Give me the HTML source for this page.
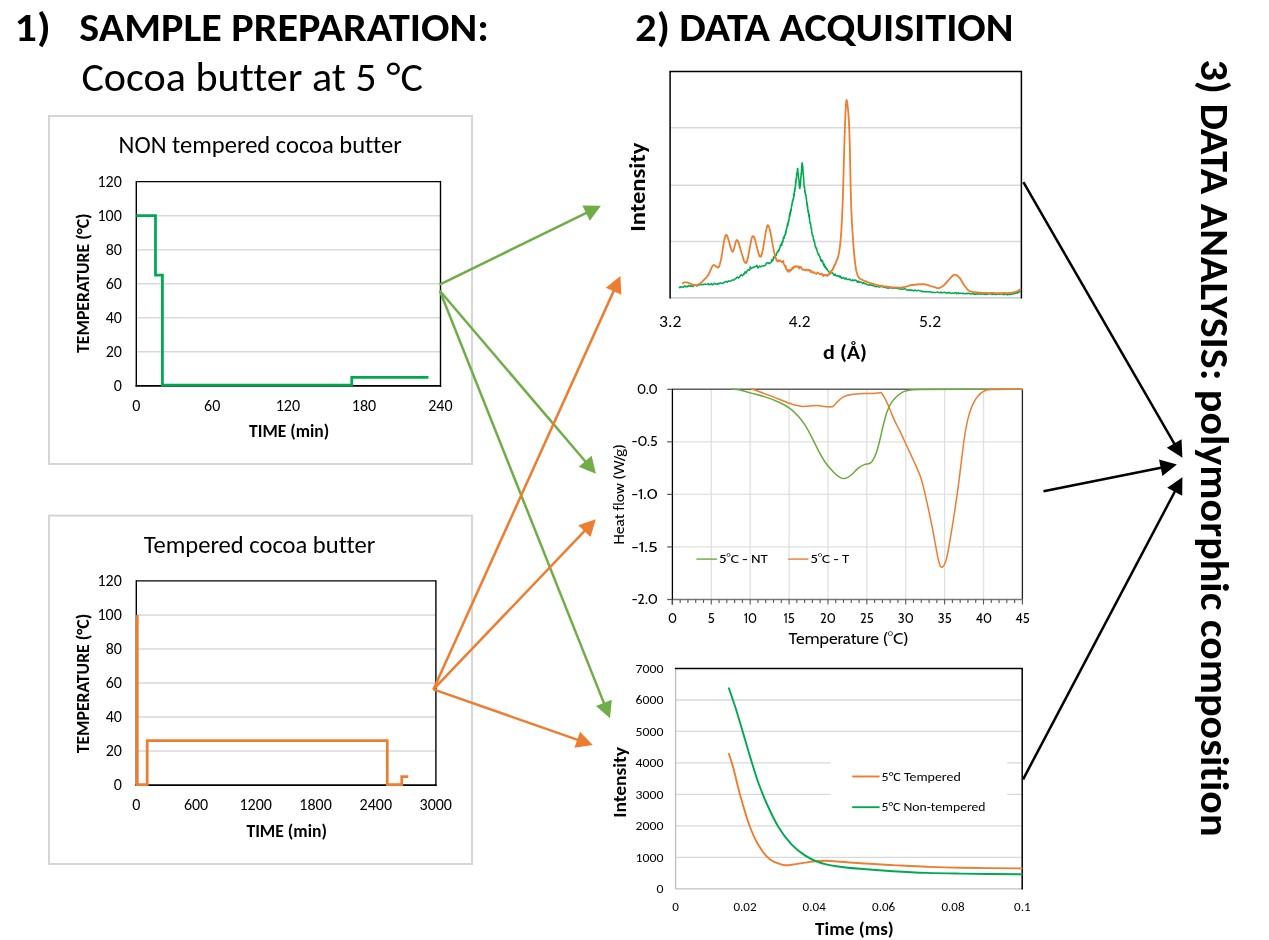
<!DOCTYPE html>
<html><head><meta charset="utf-8"><title>Cocoa butter workflow</title>
<style>html,body{margin:0;padding:0;background:#fff;}svg{display:block;}text{font-variant-ligatures:none;font-kerning:normal;}</style></head>
<body><svg width="1269" height="940" viewBox="0 0 1269 940">
<rect width="1269" height="940" fill="#fff"/>
<text x="14.61" y="41.00" font-family="Carlito, 'Liberation Sans', sans-serif" font-size="41.00" font-weight="bold" fill="#000" textLength="36.08" lengthAdjust="spacingAndGlyphs" >1)</text>
<text x="79.36" y="41.00" font-family="Carlito, 'Liberation Sans', sans-serif" font-size="41.00" font-weight="bold" fill="#000" textLength="409.42" lengthAdjust="spacingAndGlyphs" >SAMPLE PREPARATION:</text>
<text x="81.42" y="90.50" font-family="Carlito, 'Liberation Sans', sans-serif" font-size="40.80" font-weight="normal" fill="#000" textLength="341.54" lengthAdjust="spacingAndGlyphs" >Cocoa butter at 5 °C</text>
<text x="635.33" y="41.40" font-family="Carlito, 'Liberation Sans', sans-serif" font-size="41.00" font-weight="bold" fill="#000" textLength="378.22" lengthAdjust="spacingAndGlyphs" >2) DATA ACQUISITION</text>
<text transform="translate(1200.70,61.10) rotate(90)" x="-1.68" y="0" font-family="Carlito, 'Liberation Sans', sans-serif" font-size="40.50" font-weight="bold" fill="#000" textLength="777.05" lengthAdjust="spacingAndGlyphs" >3) DATA ANALYSIS: polymorphic composition</text>
<rect x="49.0" y="116.00" width="423.0" height="348.00" fill="none" stroke="#D4D4D4" stroke-width="1.9"/>
<text x="118.58" y="153.40" font-family="Carlito, 'Liberation Sans', sans-serif" font-size="24.50" font-weight="normal" fill="#000" textLength="283.14" lengthAdjust="spacingAndGlyphs" >NON tempered cocoa butter</text>
<line x1="136.30" y1="351.77" x2="440.50" y2="351.77" stroke="#D9D9D9" stroke-width="1.5" />
<line x1="136.30" y1="317.73" x2="440.50" y2="317.73" stroke="#D9D9D9" stroke-width="1.5" />
<line x1="136.30" y1="283.70" x2="440.50" y2="283.70" stroke="#D9D9D9" stroke-width="1.5" />
<line x1="136.30" y1="249.67" x2="440.50" y2="249.67" stroke="#D9D9D9" stroke-width="1.5" />
<line x1="136.30" y1="215.63" x2="440.50" y2="215.63" stroke="#D9D9D9" stroke-width="1.5" />
<line x1="136.30" y1="181.60" x2="440.50" y2="181.60" stroke="#000" stroke-width="1.3" />
<line x1="136.30" y1="180.95" x2="136.30" y2="386.70" stroke="#000" stroke-width="1.4" />
<line x1="440.50" y1="180.95" x2="440.50" y2="386.70" stroke="#000" stroke-width="1.4" />
<line x1="135.60" y1="385.80" x2="441.20" y2="385.80" stroke="#000" stroke-width="1.8" />
<text x="113.72" y="391.00" font-family="Carlito, 'Liberation Sans', sans-serif" font-size="16.00" font-weight="normal" fill="#000" textLength="8.11" lengthAdjust="spacingAndGlyphs" >0</text>
<text x="105.64" y="356.97" font-family="Carlito, 'Liberation Sans', sans-serif" font-size="16.00" font-weight="normal" fill="#000" textLength="16.22" lengthAdjust="spacingAndGlyphs" >20</text>
<text x="105.64" y="322.93" font-family="Carlito, 'Liberation Sans', sans-serif" font-size="16.00" font-weight="normal" fill="#000" textLength="16.22" lengthAdjust="spacingAndGlyphs" >40</text>
<text x="105.64" y="288.90" font-family="Carlito, 'Liberation Sans', sans-serif" font-size="16.00" font-weight="normal" fill="#000" textLength="16.22" lengthAdjust="spacingAndGlyphs" >60</text>
<text x="105.64" y="254.87" font-family="Carlito, 'Liberation Sans', sans-serif" font-size="16.00" font-weight="normal" fill="#000" textLength="16.22" lengthAdjust="spacingAndGlyphs" >80</text>
<text x="97.48" y="220.83" font-family="Carlito, 'Liberation Sans', sans-serif" font-size="16.00" font-weight="normal" fill="#000" textLength="24.33" lengthAdjust="spacingAndGlyphs" >100</text>
<text x="97.48" y="186.80" font-family="Carlito, 'Liberation Sans', sans-serif" font-size="16.00" font-weight="normal" fill="#000" textLength="24.33" lengthAdjust="spacingAndGlyphs" >120</text>
<text x="132.26" y="410.70" font-family="Carlito, 'Liberation Sans', sans-serif" font-size="16.00" font-weight="normal" fill="#000" textLength="8.11" lengthAdjust="spacingAndGlyphs" >0</text>
<text x="204.11" y="410.70" font-family="Carlito, 'Liberation Sans', sans-serif" font-size="16.00" font-weight="normal" fill="#000" textLength="16.22" lengthAdjust="spacingAndGlyphs" >60</text>
<text x="275.72" y="410.70" font-family="Carlito, 'Liberation Sans', sans-serif" font-size="16.00" font-weight="normal" fill="#000" textLength="24.33" lengthAdjust="spacingAndGlyphs" >120</text>
<text x="351.77" y="410.70" font-family="Carlito, 'Liberation Sans', sans-serif" font-size="16.00" font-weight="normal" fill="#000" textLength="24.33" lengthAdjust="spacingAndGlyphs" >180</text>
<text x="428.18" y="410.70" font-family="Carlito, 'Liberation Sans', sans-serif" font-size="16.00" font-weight="normal" fill="#000" textLength="24.33" lengthAdjust="spacingAndGlyphs" >240</text>
<text x="249.12" y="437.30" font-family="Carlito, 'Liberation Sans', sans-serif" font-size="17.60" font-weight="bold" fill="#000" textLength="79.99" lengthAdjust="spacingAndGlyphs" >TIME (min)</text>
<text transform="translate(88.90,352.80) rotate(-90)" x="-0.18" y="0" font-family="Carlito, 'Liberation Sans', sans-serif" font-size="18.00" font-weight="bold" fill="#000" textLength="139.58" lengthAdjust="spacingAndGlyphs" >TEMPERATURE (°C)</text>
<polyline points="136.30,215.63 155.50,215.63 155.50,275.19 162.41,275.19 162.41,385.20 351.77,385.20 351.77,377.29 428.46,377.29" fill="none" stroke="#00A84F" stroke-width="2.75" stroke-linejoin="miter"/>
<rect x="49.0" y="515.60" width="423.0" height="348.40" fill="none" stroke="#D4D4D4" stroke-width="1.9"/>
<text x="143.65" y="552.70" font-family="Carlito, 'Liberation Sans', sans-serif" font-size="24.50" font-weight="normal" fill="#000" textLength="231.67" lengthAdjust="spacingAndGlyphs" >Tempered cocoa butter</text>
<line x1="136.30" y1="751.07" x2="435.90" y2="751.07" stroke="#D9D9D9" stroke-width="1.5" />
<line x1="136.30" y1="717.03" x2="435.90" y2="717.03" stroke="#D9D9D9" stroke-width="1.5" />
<line x1="136.30" y1="683.00" x2="435.90" y2="683.00" stroke="#D9D9D9" stroke-width="1.5" />
<line x1="136.30" y1="648.97" x2="435.90" y2="648.97" stroke="#D9D9D9" stroke-width="1.5" />
<line x1="136.30" y1="614.93" x2="435.90" y2="614.93" stroke="#D9D9D9" stroke-width="1.5" />
<line x1="136.30" y1="580.90" x2="435.90" y2="580.90" stroke="#000" stroke-width="1.3" />
<line x1="136.30" y1="580.25" x2="136.30" y2="786.00" stroke="#000" stroke-width="1.4" />
<line x1="435.90" y1="580.25" x2="435.90" y2="786.00" stroke="#000" stroke-width="1.4" />
<line x1="135.60" y1="785.10" x2="436.60" y2="785.10" stroke="#000" stroke-width="1.8" />
<text x="113.72" y="790.30" font-family="Carlito, 'Liberation Sans', sans-serif" font-size="16.00" font-weight="normal" fill="#000" textLength="8.11" lengthAdjust="spacingAndGlyphs" >0</text>
<text x="105.64" y="756.27" font-family="Carlito, 'Liberation Sans', sans-serif" font-size="16.00" font-weight="normal" fill="#000" textLength="16.22" lengthAdjust="spacingAndGlyphs" >20</text>
<text x="105.64" y="722.23" font-family="Carlito, 'Liberation Sans', sans-serif" font-size="16.00" font-weight="normal" fill="#000" textLength="16.22" lengthAdjust="spacingAndGlyphs" >40</text>
<text x="105.64" y="688.20" font-family="Carlito, 'Liberation Sans', sans-serif" font-size="16.00" font-weight="normal" fill="#000" textLength="16.22" lengthAdjust="spacingAndGlyphs" >60</text>
<text x="105.64" y="654.17" font-family="Carlito, 'Liberation Sans', sans-serif" font-size="16.00" font-weight="normal" fill="#000" textLength="16.22" lengthAdjust="spacingAndGlyphs" >80</text>
<text x="97.48" y="620.13" font-family="Carlito, 'Liberation Sans', sans-serif" font-size="16.00" font-weight="normal" fill="#000" textLength="24.33" lengthAdjust="spacingAndGlyphs" >100</text>
<text x="97.48" y="586.10" font-family="Carlito, 'Liberation Sans', sans-serif" font-size="16.00" font-weight="normal" fill="#000" textLength="24.33" lengthAdjust="spacingAndGlyphs" >120</text>
<text x="132.26" y="810.00" font-family="Carlito, 'Liberation Sans', sans-serif" font-size="16.00" font-weight="normal" fill="#000" textLength="8.11" lengthAdjust="spacingAndGlyphs" >0</text>
<text x="183.90" y="810.00" font-family="Carlito, 'Liberation Sans', sans-serif" font-size="16.00" font-weight="normal" fill="#000" textLength="24.33" lengthAdjust="spacingAndGlyphs" >600</text>
<text x="239.42" y="810.00" font-family="Carlito, 'Liberation Sans', sans-serif" font-size="16.00" font-weight="normal" fill="#000" textLength="32.44" lengthAdjust="spacingAndGlyphs" >1200</text>
<text x="299.34" y="810.00" font-family="Carlito, 'Liberation Sans', sans-serif" font-size="16.00" font-weight="normal" fill="#000" textLength="32.44" lengthAdjust="spacingAndGlyphs" >1800</text>
<text x="359.62" y="810.00" font-family="Carlito, 'Liberation Sans', sans-serif" font-size="16.00" font-weight="normal" fill="#000" textLength="32.44" lengthAdjust="spacingAndGlyphs" >2400</text>
<text x="419.54" y="810.00" font-family="Carlito, 'Liberation Sans', sans-serif" font-size="16.00" font-weight="normal" fill="#000" textLength="32.44" lengthAdjust="spacingAndGlyphs" >3000</text>
<text x="246.42" y="836.90" font-family="Carlito, 'Liberation Sans', sans-serif" font-size="17.60" font-weight="bold" fill="#000" textLength="80.50" lengthAdjust="spacingAndGlyphs" >TIME (min)</text>
<text transform="translate(88.90,753.20) rotate(-90)" x="-0.18" y="0" font-family="Carlito, 'Liberation Sans', sans-serif" font-size="18.00" font-weight="bold" fill="#000" textLength="139.58" lengthAdjust="spacingAndGlyphs" >TEMPERATURE (°C)</text>
<polyline points="137.30,614.93 137.30,784.59 147.19,784.59 147.19,740.52 387.26,740.52 387.26,784.59 401.75,784.59 401.75,776.59 408.24,776.59" fill="none" stroke="#ED7D31" stroke-width="2.75" stroke-linejoin="miter"/>
<line x1="670.10" y1="127.80" x2="1021.40" y2="127.80" stroke="#D9D9D9" stroke-width="1.5" />
<line x1="670.10" y1="185.20" x2="1021.40" y2="185.20" stroke="#D9D9D9" stroke-width="1.5" />
<line x1="670.10" y1="241.60" x2="1021.40" y2="241.60" stroke="#D9D9D9" stroke-width="1.5" />
<line x1="670.10" y1="297.90" x2="1021.40" y2="297.90" stroke="#BFBFBF" stroke-width="1.3" />
<line x1="669.40" y1="71.50" x2="1022.10" y2="71.50" stroke="#000" stroke-width="1.4" />
<line x1="670.10" y1="71.50" x2="670.10" y2="298.50" stroke="#000" stroke-width="1.5" />
<line x1="1021.40" y1="71.50" x2="1021.40" y2="298.50" stroke="#000" stroke-width="1.5" />
<text x="659.11" y="327.10" font-family="Carlito, 'Liberation Sans', sans-serif" font-size="15.30" font-weight="normal" fill="#000" textLength="22.32" lengthAdjust="spacingAndGlyphs" >3.2</text>
<text x="788.74" y="327.10" font-family="Carlito, 'Liberation Sans', sans-serif" font-size="15.30" font-weight="normal" fill="#000" textLength="21.77" lengthAdjust="spacingAndGlyphs" >4.2</text>
<text x="918.91" y="327.10" font-family="Carlito, 'Liberation Sans', sans-serif" font-size="15.30" font-weight="normal" fill="#000" textLength="22.32" lengthAdjust="spacingAndGlyphs" >5.2</text>
<text x="823.14" y="358.60" font-family="Carlito, 'Liberation Sans', sans-serif" font-size="20.50" font-weight="bold" fill="#000" textLength="43.82" lengthAdjust="spacingAndGlyphs" >d (Å)</text>
<text transform="translate(645.20,230.10) rotate(-90)" x="-1.72" y="0" font-family="Carlito, 'Liberation Sans', sans-serif" font-size="22.90" font-weight="bold" fill="#000" textLength="89.31" lengthAdjust="spacingAndGlyphs" >Intensity</text>
<polyline points="679.20,286.66 679.64,287.67 680.14,287.50 680.70,286.68 681.30,286.97 681.96,286.84 682.66,287.07 683.41,287.20 684.19,286.07 685.00,285.88 685.85,287.02 686.72,286.32 687.61,286.73 688.53,285.47 689.45,286.05 690.40,286.38 691.35,285.52 692.30,286.53 693.26,286.37 694.21,284.91 695.16,284.80 696.09,285.51 697.02,286.05 697.92,285.07 698.81,284.72 699.67,284.96 700.50,284.25 701.32,284.47 702.15,284.74 702.99,284.76 703.84,284.26 704.69,284.19 705.54,284.10 706.40,284.42 707.26,284.07 708.12,283.57 708.98,284.83 709.84,284.31 710.69,284.38 711.54,283.56 712.39,284.82 713.23,284.53 714.06,283.23 714.88,283.50 715.70,284.07 716.50,283.97 717.29,284.25 718.06,283.30 718.82,283.89 719.57,283.52 720.30,282.80 721.01,283.17 721.70,283.55 722.67,283.31 723.60,282.55 724.50,282.52 725.38,281.37 726.23,281.54 727.06,282.31 727.86,281.43 728.64,280.80 729.41,281.24 730.17,281.29 730.90,281.01 731.63,280.22 732.35,280.07 733.07,279.93 733.78,280.15 734.48,279.38 735.19,278.83 735.90,278.68 736.65,277.44 737.40,277.05 738.15,277.89 738.90,277.98 739.64,276.75 740.36,275.79 741.08,274.68 741.79,275.07 742.48,275.87 743.16,274.79 743.82,273.65 744.46,274.06 745.08,271.82 745.67,272.15 746.24,272.97 746.79,271.50 747.30,270.78 748.26,269.50 749.04,269.62 749.69,270.19 750.27,266.80 750.84,268.59 751.42,268.25 752.10,268.07 752.90,267.33 753.63,267.39 754.41,266.47 755.22,266.65 756.06,266.34 756.93,265.35 757.82,267.92 758.73,267.09 759.65,265.99 760.57,266.83 761.50,266.55 762.17,265.95 762.87,265.65 763.59,265.95 764.32,265.89 765.05,265.50 765.80,264.65 766.54,262.91 767.28,263.10 768.02,262.47 768.74,263.27 769.44,263.64 770.12,262.93 770.78,262.39 771.40,261.91 771.95,259.59 772.49,260.96 773.00,259.89 773.49,257.43 773.97,256.65 774.44,256.05 774.90,257.90 775.35,255.60 775.79,254.47 776.24,255.50 776.68,253.83 777.12,252.13 777.57,251.61 778.03,252.01 778.50,249.85 778.80,249.62 779.09,250.55 779.39,249.04 779.68,247.95 779.98,247.85 780.27,245.60 780.57,246.24 780.87,245.69 781.16,244.16 781.46,243.17 781.75,245.33 782.05,243.17 782.35,241.31 782.64,242.00 782.94,242.00 783.23,238.21 783.53,237.35 783.83,236.97 784.12,238.25 784.42,235.21 784.71,236.36 785.01,235.30 785.30,233.79 785.60,231.51 785.78,233.83 785.96,232.48 786.14,230.69 786.33,228.83 786.52,229.79 786.71,228.04 786.90,228.01 787.09,226.20 787.28,226.67 787.48,223.54 787.67,223.69 787.87,225.61 788.06,224.40 788.26,221.20 788.45,222.64 788.65,219.50 788.84,221.27 789.03,219.58 789.23,217.33 789.42,215.77 789.61,213.86 789.80,216.70 789.98,212.23 790.17,214.74 790.35,214.51 790.53,211.96 790.71,209.39 790.89,211.60 791.06,211.26 791.23,209.27 791.39,207.62 791.56,206.26 791.71,205.37 791.87,203.99 792.02,205.36 792.16,203.58 792.31,201.82 792.44,200.75 792.57,202.66 792.70,200.37 792.94,200.14 793.16,198.25 793.36,199.73 793.55,198.89 793.72,193.89 793.88,193.86 794.03,193.61 794.16,195.89 794.29,194.16 794.41,191.34 794.53,190.02 794.64,191.49 794.74,191.57 794.85,191.33 794.95,187.85 795.05,189.73 795.16,188.09 795.27,186.41 795.38,188.09 795.50,183.72 795.63,185.20 795.76,181.13 795.89,180.52 796.01,183.09 796.13,178.59 796.24,180.20 796.36,178.33 796.47,178.47 796.58,175.10 796.69,173.99 796.80,172.83 796.91,174.89 797.02,172.84 797.13,173.99 797.25,173.15 797.36,168.99 797.48,170.89 797.60,168.60 797.71,168.44 797.82,169.01 797.93,173.61 798.05,173.97 798.16,175.08 798.28,173.67 798.39,176.17 798.51,178.18 798.62,177.42 798.74,179.62 798.85,179.16 798.97,179.68 799.09,181.74 799.20,185.83 799.32,185.19 799.44,187.73 799.55,186.12 799.67,185.71 799.78,188.39 799.90,188.57 799.99,184.48 800.07,187.30 800.16,184.04 800.24,183.55 800.33,186.55 800.42,181.65 800.50,181.71 800.59,184.37 800.68,180.55 800.76,177.95 800.85,177.06 800.94,176.25 801.03,177.56 801.11,173.17 801.20,176.03 801.28,172.21 801.37,174.07 801.46,172.69 801.54,168.55 801.63,167.39 801.71,167.66 801.79,164.96 801.88,167.12 801.96,163.43 802.04,162.86 802.12,167.60 802.20,163.95 802.29,165.54 802.37,164.96 802.45,164.55 802.53,163.69 802.62,168.58 802.70,169.49 802.78,170.20 802.86,166.61 802.93,168.01 803.01,170.98 803.09,173.79 803.17,172.60 803.24,174.39 803.32,175.33 803.40,174.42 803.48,176.93 803.56,176.87 803.63,177.66 803.71,177.92 803.79,179.94 803.87,184.37 803.95,182.70 804.03,184.58 804.12,185.35 804.20,187.52 804.32,185.83 804.44,186.37 804.56,187.38 804.68,188.23 804.80,191.61 804.93,192.68 805.05,190.72 805.18,191.69 805.31,193.48 805.43,194.42 805.56,195.28 805.68,194.41 805.81,194.12 805.93,195.91 806.05,195.86 806.17,198.79 806.28,197.32 806.40,198.06 806.54,201.48 806.65,200.68 806.76,203.63 806.86,202.90 806.95,205.15 807.04,202.55 807.14,204.71 807.24,206.65 807.36,204.15 807.50,208.81 807.65,206.27 807.84,209.96 808.05,212.05 808.30,212.70 808.40,211.09 808.51,210.78 808.62,213.18 808.74,215.59 808.86,213.60 808.98,216.89 809.11,214.43 809.24,218.47 809.37,215.53 809.51,217.55 809.65,220.85 809.79,221.27 809.93,222.55 810.08,223.14 810.23,223.63 810.38,224.28 810.54,223.08 810.70,225.03 810.85,224.82 811.02,227.98 811.18,228.70 811.34,227.94 811.51,228.10 811.67,232.56 811.84,232.83 812.01,232.70 812.18,233.53 812.35,235.59 812.52,234.89 812.69,235.50 812.87,236.10 813.04,236.58 813.21,236.47 813.38,239.57 813.56,239.43 813.73,240.70 813.90,239.47 814.17,241.55 814.43,241.73 814.71,242.62 814.98,244.03 815.26,246.97 815.54,246.28 815.82,247.14 816.10,248.71 816.39,248.17 816.68,248.17 816.97,250.76 817.27,251.41 817.57,252.65 817.87,252.65 818.17,254.20 818.47,255.04 818.78,254.06 819.09,255.59 819.40,256.20 819.72,256.02 820.04,257.29 820.35,258.42 820.68,260.19 821.00,260.85 821.43,259.62 821.87,261.63 822.31,260.53 822.76,261.40 823.20,263.55 823.66,265.42 824.11,263.94 824.57,266.50 825.04,267.53 825.51,266.48 825.98,268.26 826.47,269.34 826.95,268.54 827.45,270.08 827.95,270.74 828.46,270.87 828.98,272.13 829.50,272.73 830.18,273.49 830.86,272.92 831.54,272.29 832.22,272.94 832.92,273.24 833.62,274.58 834.34,275.42 835.08,274.12 835.84,275.69 836.61,276.05 837.42,275.60 838.25,276.22 839.11,275.83 840.00,277.25 840.68,276.14 841.39,278.19 842.12,278.07 842.86,277.93 843.63,277.44 844.40,278.87 845.20,279.15 846.00,277.78 846.81,279.17 847.63,279.48 848.45,279.32 849.28,279.58 850.11,279.29 850.94,280.37 851.76,280.64 852.58,279.76 853.40,280.73 854.20,280.26 855.00,280.00 855.77,280.51 856.51,280.38 857.21,282.00 857.90,282.32 858.57,281.09 859.23,282.17 859.89,282.08 860.55,281.83 861.23,282.38 861.92,282.55 862.63,283.65 863.38,282.64 864.16,283.20 864.99,283.85 865.86,283.41 866.80,284.63 867.79,284.83 868.86,285.42 870.00,284.63 870.62,284.87 871.26,285.39 871.91,285.07 872.59,285.67 873.29,285.26 874.00,286.04 874.73,286.31 875.48,286.44 876.24,286.80 877.01,286.25 877.80,286.27 878.59,286.93 879.40,286.90 880.22,286.70 881.05,286.52 881.89,286.47 882.74,286.31 883.59,287.45 884.45,286.52 885.31,287.56 886.18,287.36 887.05,288.07 887.92,287.87 888.80,288.28 889.67,287.15 890.55,287.78 891.42,287.98 892.29,287.69 893.16,288.07 894.03,287.95 894.89,288.29 895.74,287.63 896.59,288.35 897.43,288.46 898.26,288.34 899.09,288.57 899.90,289.19 900.71,289.14 901.52,288.97 902.32,289.27 903.13,288.99 903.94,288.85 904.75,288.67 905.56,289.13 906.36,289.65 907.17,290.12 907.98,290.14 908.79,289.80 909.59,290.52 910.40,289.92 911.21,290.49 912.02,290.02 912.82,290.54 913.63,290.94 914.44,290.14 915.25,290.05 916.06,290.72 916.86,290.68 917.67,290.55 918.48,290.18 919.29,290.75 920.10,290.87 920.90,290.92 921.71,291.57 922.52,291.30 923.33,291.55 924.14,291.83 924.95,291.71 925.75,291.47 926.56,291.84 927.37,291.78 928.18,291.85 928.99,291.89 929.80,291.69 930.61,292.01 931.42,292.08 932.23,292.49 933.04,292.36 933.85,292.49 934.66,292.45 935.47,292.56 936.28,292.36 937.09,292.11 937.90,292.06 938.71,292.62 939.53,292.85 940.34,292.52 941.15,292.11 941.96,292.93 942.77,292.57 943.58,292.59 944.39,292.15 945.21,292.72 946.02,293.02 946.83,292.69 947.64,292.65 948.45,293.03 949.26,292.35 950.07,292.93 950.89,293.45 951.70,293.20 952.51,292.91 953.32,293.26 954.13,293.20 954.94,292.79 955.75,292.82 956.56,293.60 957.37,292.96 958.18,292.78 958.99,293.63 959.80,293.33 960.61,293.19 961.43,293.37 962.25,293.65 963.08,293.07 963.90,293.61 964.74,293.71 965.57,293.84 966.41,293.29 967.25,293.68 968.09,293.30 968.93,293.68 969.77,293.30 970.61,293.97 971.45,294.07 972.29,293.54 973.13,293.45 973.97,294.24 974.80,294.00 975.63,294.16 976.46,293.34 977.29,294.26 978.11,293.99 978.93,293.70 979.75,293.84 980.55,294.19 981.36,294.24 982.15,293.64 982.94,294.11 983.73,293.65 984.50,294.49 985.27,293.97 986.03,294.46 986.79,294.28 987.53,294.17 988.26,293.84 988.99,294.12 989.70,293.73 990.64,293.75 991.57,294.35 992.50,294.01 993.43,294.42 994.35,293.93 995.27,294.43 996.18,294.44 997.08,294.05 997.98,293.87 998.87,294.18 999.75,294.29 1000.61,293.92 1001.47,294.02 1002.31,293.90 1003.13,294.44 1003.95,294.74 1004.74,294.07 1005.52,293.89 1006.29,294.55 1007.03,294.65 1007.75,294.79 1008.46,294.43 1009.14,294.13 1009.80,294.60 1010.44,293.85 1011.05,294.39 1011.64,293.74 1012.20,294.00 1013.64,293.90 1014.89,293.52 1015.97,292.97 1016.90,292.67 1017.71,292.96 1018.40,292.18 1018.99,291.97 1019.51,291.21 1019.98,291.56 1020.40,290.89" fill="none" stroke="#00A84F" stroke-width="1.5" stroke-linejoin="round"/>
<polyline points="682.00,283.81 682.54,283.55 683.28,282.74 684.17,282.34 685.19,282.41 686.30,282.31 686.97,282.41 687.72,282.48 688.51,282.93 689.35,283.30 690.19,283.67 691.04,283.86 691.87,284.32 692.66,284.58 693.40,284.90 694.25,285.18 695.02,285.31 695.75,285.24 696.47,285.21 697.23,285.02 698.06,284.62 699.00,284.09 699.49,283.95 700.02,283.50 700.58,283.09 701.16,282.85 701.76,282.15 702.37,281.61 702.99,280.86 703.61,280.13 704.23,279.65 704.84,278.90 705.44,278.43 706.02,278.03 706.58,277.20 707.11,276.27 707.60,276.02 708.09,275.25 708.56,274.42 709.01,273.68 709.44,272.71 709.85,271.83 710.24,270.65 710.63,270.14 711.00,269.26 711.37,267.91 711.73,267.53 712.09,266.81 712.46,266.04 712.83,265.59 713.20,265.19 714.09,265.22 714.99,265.33 715.88,266.30 716.72,266.77 717.50,267.63 718.20,267.57 718.56,266.97 718.87,266.68 719.13,266.49 719.37,265.84 719.60,265.05 719.83,264.10 720.07,263.25 720.33,262.42 720.64,260.75 721.00,259.80 721.13,258.77 721.26,258.63 721.39,257.48 721.53,257.22 721.67,256.22 721.81,255.21 721.95,254.32 722.10,253.49 722.25,252.47 722.40,251.26 722.55,250.16 722.71,249.39 722.87,248.72 723.03,247.42 723.19,245.92 723.36,245.55 723.52,244.46 723.69,243.64 723.86,242.05 724.03,241.63 724.21,240.12 724.38,239.82 724.56,238.69 724.73,237.91 724.91,237.84 725.09,236.52 725.27,236.38 725.45,236.25 725.63,235.31 725.82,235.00 726.00,235.46 726.26,234.96 726.53,235.38 726.81,235.06 727.10,235.87 727.39,236.34 727.69,237.59 727.98,237.93 728.29,239.71 728.59,239.91 728.90,241.65 729.21,242.15 729.51,243.51 729.82,245.15 730.12,245.70 730.43,246.80 730.72,248.24 731.02,248.91 731.31,249.44 731.59,250.93 731.87,250.80 732.14,251.10 732.40,251.57 732.76,251.78 733.10,251.53 733.42,250.36 733.72,249.67 734.01,248.35 734.29,247.52 734.57,246.54 734.85,245.25 735.15,244.17 735.45,242.92 735.77,242.04 736.11,241.12 736.47,240.40 736.87,239.98 737.30,240.55 737.53,240.49 737.77,240.66 738.02,241.46 738.27,242.43 738.54,242.45 738.81,243.62 739.09,244.29 739.37,245.30 739.66,245.94 739.95,247.65 740.25,248.10 740.55,249.46 740.85,250.40 741.16,251.18 741.47,252.72 741.78,253.48 742.09,254.50 742.40,255.53 742.71,256.65 743.01,257.57 743.32,258.89 743.62,259.64 743.93,260.77 744.22,261.42 744.52,262.06 744.80,262.01 745.09,262.55 745.37,262.68 745.64,263.06 745.90,263.09 746.13,263.09 746.35,262.78 746.57,262.10 746.79,261.76 747.01,261.27 747.22,260.24 747.43,259.53 747.64,259.00 747.85,257.90 748.05,257.44 748.25,256.08 748.46,254.93 748.66,253.93 748.86,252.87 749.05,251.73 749.25,250.84 749.45,249.65 749.65,248.37 749.84,247.51 750.04,246.01 750.24,245.51 750.43,244.49 750.63,243.24 750.83,241.98 751.03,241.11 751.23,240.28 751.43,238.98 751.64,238.56 751.84,237.99 752.05,237.09 752.26,236.53 752.47,236.81 752.68,236.13 752.90,236.12 753.18,236.48 753.45,236.35 753.74,236.39 754.02,237.54 754.31,237.60 754.59,238.03 754.88,239.52 755.17,239.96 755.47,241.19 755.76,242.78 756.05,243.79 756.35,244.42 756.65,246.02 756.94,247.20 757.24,248.48 757.53,249.43 757.83,250.90 758.12,251.56 758.42,252.76 758.71,253.76 759.00,255.04 759.29,255.07 759.57,256.19 759.86,256.19 760.14,256.75 760.42,256.71 760.70,256.67 760.89,256.71 761.08,256.14 761.27,255.54 761.46,255.07 761.65,254.48 761.84,254.45 762.03,253.57 762.21,253.06 762.40,252.00 762.59,250.56 762.77,250.14 762.96,249.25 763.14,248.17 763.33,246.92 763.51,245.70 763.70,244.67 763.88,243.84 764.06,242.23 764.25,241.31 764.43,240.11 764.61,239.40 764.79,238.13 764.97,237.13 765.15,235.94 765.33,234.36 765.51,233.26 765.69,232.50 765.87,231.32 766.05,230.58 766.22,229.97 766.40,229.42 766.58,228.36 766.75,227.94 766.93,226.63 767.10,226.40 767.28,226.64 767.45,225.46 767.63,225.52 767.80,225.06 768.00,225.07 768.20,226.00 768.40,226.31 768.61,226.27 768.81,226.15 769.02,226.81 769.22,227.32 769.43,228.41 769.63,229.14 769.84,229.68 770.05,230.60 770.25,231.09 770.46,232.45 770.66,233.82 770.86,234.65 771.06,235.06 771.26,236.53 771.46,237.80 771.66,238.46 771.85,240.15 772.04,240.85 772.23,242.16 772.41,242.97 772.60,244.55 772.77,245.40 772.95,246.22 773.12,246.82 773.29,248.00 773.45,248.53 773.61,249.83 773.77,250.84 773.92,250.96 774.06,251.86 774.20,252.39 774.62,253.91 774.96,255.45 775.24,256.68 775.48,257.36 775.70,257.87 775.91,258.81 776.14,258.50 776.40,259.98 776.72,260.17 777.10,260.86 777.76,261.56 778.50,260.14 779.31,261.14 780.15,260.54 781.01,261.23 781.87,262.25 782.70,261.94 783.13,260.86 783.56,262.64 783.98,264.02 784.40,265.28 784.82,265.59 785.24,266.93 785.67,265.87 786.10,269.04 786.54,269.34 786.99,269.78 787.44,271.13 787.92,271.54 788.40,269.93 789.05,271.75 789.71,271.44 790.38,269.66 791.07,270.41 791.77,269.37 792.49,267.71 793.22,268.54 793.97,266.33 794.73,267.08 795.50,266.44 796.21,265.98 796.94,266.84 797.68,266.77 798.43,266.36 799.19,268.54 799.96,266.67 800.75,266.85 801.54,268.40 802.35,269.61 803.17,269.50 804.00,270.02 804.78,269.60 805.57,270.30 806.37,269.72 807.19,269.80 808.02,270.61 808.86,269.70 809.70,270.08 810.54,271.95 811.39,270.79 812.23,272.43 813.07,272.75 813.90,272.07 814.74,272.97 815.61,273.51 816.50,273.98 817.39,272.52 818.28,272.88 819.17,273.69 820.04,274.15 820.89,273.99 821.71,273.53 822.49,275.01 823.22,276.12 823.90,274.78 824.93,275.28 825.82,274.97 826.60,275.10 827.32,275.99 828.02,274.39 828.73,274.74 829.50,273.66 829.91,273.36 830.32,273.77 830.74,271.20 831.16,272.40 831.59,270.49 832.01,270.63 832.43,270.27 832.85,269.17 833.26,267.74 833.67,268.03 834.07,265.35 834.46,265.85 834.84,264.39 835.20,263.88 835.48,264.03 835.75,263.29 836.02,262.05 836.28,261.24 836.54,260.62 836.79,260.22 837.04,259.47 837.29,258.90 837.53,258.78 837.77,257.46 838.00,257.26 838.23,256.13 838.45,255.25 838.67,254.27 838.89,253.03 839.10,252.19 839.30,250.70 839.50,249.55 839.57,248.87 839.65,248.83 839.72,248.30 839.79,247.34 839.86,246.95 839.93,246.64 840.00,245.55 840.07,244.78 840.13,244.32 840.20,243.70 840.26,243.54 840.33,242.67 840.39,242.05 840.45,241.83 840.51,240.70 840.57,240.59 840.63,239.79 840.69,238.92 840.75,238.64 840.81,237.51 840.86,237.32 840.92,236.66 840.98,235.54 841.03,234.98 841.09,234.47 841.15,233.51 841.20,232.73 841.26,232.04 841.31,231.28 841.36,230.25 841.42,229.61 841.47,228.04 841.53,227.47 841.58,226.59 841.64,225.32 841.69,224.38 841.74,223.15 841.80,222.93 841.85,221.25 841.91,220.30 841.96,219.64 842.02,217.76 842.07,217.43 842.13,215.34 842.19,214.01 842.24,213.11 842.30,211.84 842.33,211.88 842.35,211.24 842.38,210.50 842.40,209.50 842.43,208.99 842.46,207.99 842.48,208.01 842.51,206.83 842.53,206.02 842.56,205.73 842.59,204.46 842.61,203.93 842.64,203.91 842.66,202.20 842.69,201.51 842.72,200.82 842.74,200.11 842.77,199.53 842.79,198.54 842.82,197.86 842.85,196.94 842.87,196.12 842.90,195.75 842.93,194.59 842.95,193.80 842.98,193.45 843.00,191.73 843.03,190.98 843.06,191.00 843.08,189.61 843.11,189.18 843.14,187.49 843.16,187.10 843.19,186.63 843.21,185.09 843.24,184.75 843.27,183.65 843.29,182.47 843.32,182.35 843.35,180.66 843.37,179.85 843.40,179.13 843.42,177.82 843.45,177.58 843.48,176.35 843.50,175.42 843.53,174.43 843.55,174.10 843.58,173.19 843.60,172.06 843.63,170.62 843.66,169.64 843.68,168.87 843.71,167.29 843.73,166.45 843.76,166.75 843.78,164.63 843.81,164.83 843.83,163.56 843.86,162.97 843.88,160.89 843.91,160.30 843.93,160.09 843.96,158.07 843.98,157.31 844.01,156.76 844.03,155.61 844.06,154.69 844.08,154.55 844.11,152.84 844.13,153.24 844.16,151.91 844.18,150.18 844.20,150.56 844.23,148.75 844.25,148.26 844.28,147.54 844.30,146.09 844.32,145.81 844.35,144.34 844.37,143.74 844.39,144.01 844.42,143.08 844.44,141.85 844.46,141.32 844.49,140.85 844.51,138.99 844.53,138.77 844.56,137.49 844.58,136.75 844.60,136.02 844.62,135.48 844.64,134.54 844.67,134.11 844.69,133.69 844.71,133.41 844.73,133.13 844.75,132.57 844.77,131.67 844.80,130.74 844.82,130.78 844.84,129.03 844.86,128.37 844.88,128.93 844.90,128.10 844.96,125.79 845.03,124.45 845.08,122.77 845.14,121.49 845.20,120.04 845.25,118.61 845.30,117.92 845.35,116.66 845.40,115.03 845.45,113.71 845.50,112.28 845.55,112.00 845.59,111.35 845.64,109.14 845.68,109.01 845.73,108.14 845.77,107.26 845.82,105.46 845.86,105.62 845.91,104.38 845.95,103.76 846.00,103.84 846.05,103.44 846.10,102.95 846.15,102.74 846.20,102.31 846.25,101.62 846.30,100.63 846.36,101.64 846.42,101.56 846.47,101.46 846.54,100.99 846.60,100.02 846.66,100.31 846.73,100.25 846.80,101.27 846.87,101.31 846.94,100.94 847.02,102.53 847.09,102.91 847.17,103.17 847.24,102.88 847.32,103.08 847.40,103.48 847.48,105.09 847.56,105.51 847.65,105.48 847.73,107.24 847.81,107.45 847.89,108.01 847.98,108.86 848.06,110.26 848.14,110.76 848.22,112.07 848.31,112.21 848.39,114.21 848.47,114.61 848.55,116.77 848.62,116.82 848.70,118.22 848.78,119.79 848.85,120.84 848.93,122.36 849.00,124.34 849.07,124.57 849.13,126.88 849.20,128.20 849.22,128.91 849.25,128.95 849.27,129.55 849.30,129.99 849.32,130.80 849.34,131.10 849.37,131.65 849.39,132.75 849.41,132.98 849.44,134.09 849.46,134.95 849.48,135.26 849.50,135.76 849.53,137.16 849.55,138.29 849.57,138.08 849.59,139.44 849.61,140.27 849.63,141.40 849.66,141.89 849.68,142.13 849.70,142.79 849.72,144.54 849.74,144.57 849.76,144.98 849.78,147.09 849.80,146.95 849.82,147.97 849.84,148.85 849.86,149.62 849.88,151.18 849.90,151.50 849.92,152.53 849.94,153.38 849.96,154.87 849.98,154.59 850.00,156.30 850.02,156.56 850.04,157.50 850.06,159.05 850.08,159.63 850.10,160.11 850.12,161.76 850.14,163.13 850.16,163.66 850.18,164.37 850.19,165.71 850.21,166.78 850.23,166.65 850.25,167.76 850.27,169.58 850.29,170.44 850.31,170.37 850.33,171.95 850.34,173.09 850.36,173.61 850.38,174.65 850.40,175.31 850.42,175.82 850.44,176.68 850.46,177.36 850.47,179.03 850.49,179.21 850.51,180.71 850.53,181.27 850.55,182.18 850.57,183.72 850.59,183.82 850.60,184.76 850.62,185.46 850.64,186.07 850.66,186.89 850.68,188.08 850.70,189.23 850.72,189.10 850.73,190.94 850.75,191.37 850.77,191.35 850.79,192.90 850.81,193.25 850.83,194.11 850.85,194.32 850.87,195.51 850.88,196.20 850.90,197.19 850.92,197.61 850.94,198.40 850.96,199.06 850.98,199.07 851.00,199.44 851.04,201.20 851.08,201.98 851.12,203.16 851.16,204.49 851.20,205.84 851.24,206.99 851.28,208.06 851.31,209.40 851.35,209.43 851.39,210.89 851.43,211.29 851.46,212.85 851.50,213.47 851.54,214.00 851.58,215.03 851.61,216.23 851.65,216.83 851.69,218.12 851.73,218.26 851.76,218.99 851.80,220.35 851.84,220.74 851.88,220.93 851.91,222.35 851.95,222.60 851.99,223.89 852.03,224.25 852.07,225.10 852.11,225.86 852.15,226.13 852.18,227.25 852.23,226.96 852.27,227.94 852.31,229.09 852.35,228.93 852.39,230.25 852.43,231.24 852.48,231.63 852.52,232.45 852.56,232.38 852.61,233.52 852.65,234.29 852.70,234.84 852.76,235.76 852.82,237.04 852.88,237.38 852.95,238.20 853.01,239.63 853.07,240.89 853.14,241.67 853.20,242.44 853.27,243.00 853.33,244.43 853.40,244.56 853.46,245.62 853.53,246.96 853.60,247.91 853.67,248.35 853.73,249.62 853.80,249.79 853.87,251.02 853.94,251.40 854.02,252.35 854.09,253.11 854.16,253.75 854.23,254.84 854.31,255.67 854.38,256.25 854.46,257.27 854.53,257.54 854.61,258.60 854.68,259.30 854.76,259.88 854.84,260.92 854.92,261.00 855.00,261.85 855.14,262.99 855.29,264.00 855.42,265.45 855.56,266.15 855.70,267.05 855.84,267.90 855.98,268.76 856.12,269.91 856.27,270.59 856.42,271.25 856.58,271.67 856.75,272.62 856.93,272.99 857.12,273.75 857.32,274.17 857.53,275.14 857.76,275.84 858.00,276.18 858.49,277.06 858.99,277.62 859.50,278.29 860.05,278.75 860.66,279.09 861.34,279.34 862.11,279.64 862.99,280.28 864.00,280.83 864.59,281.03 865.23,281.20 865.90,281.19 866.61,281.61 867.35,282.16 868.12,282.51 868.91,282.59 869.72,282.88 870.55,283.22 871.40,283.30 872.25,283.78 873.12,283.88 873.98,284.35 874.84,284.43 875.71,284.75 876.56,284.92 877.40,285.11 878.20,285.27 879.02,285.65 879.86,285.73 880.71,285.75 881.58,285.94 882.45,286.25 883.33,286.33 884.20,286.42 885.08,286.67 885.95,286.44 886.82,286.75 887.67,286.86 888.51,286.89 889.34,287.19 890.14,287.27 890.92,287.12 891.68,287.28 892.40,287.40 893.36,287.45 894.28,287.39 895.16,287.61 896.01,287.48 896.83,287.42 897.63,287.64 898.41,287.63 899.18,287.52 899.93,287.53 900.67,287.69 901.41,287.56 902.15,287.34 902.90,287.46 903.76,287.21 904.59,286.98 905.38,286.88 906.16,286.72 906.93,286.53 907.70,286.20 908.48,285.96 909.28,285.62 910.11,285.25 910.98,285.24 911.90,284.93 912.67,285.18 913.47,284.83 914.31,284.83 915.17,284.78 916.05,284.44 916.95,284.64 917.85,284.34 918.75,284.17 919.65,284.34 920.53,284.22 921.39,284.43 922.23,284.21 923.03,284.08 923.80,284.09 924.74,284.19 925.65,284.54 926.54,284.82 927.41,284.75 928.26,285.11 929.08,285.42 929.87,285.86 930.64,286.14 931.39,286.34 932.11,286.47 932.80,286.63 933.81,286.79 934.73,287.29 935.58,287.45 936.39,287.79 937.17,288.21 937.97,288.20 938.80,288.19 939.55,287.89 940.30,287.51 941.05,287.19 941.80,286.74 942.55,286.06 943.30,285.72 944.05,285.16 944.80,284.16 945.35,283.67 945.91,283.35 946.48,282.69 947.04,281.79 947.61,281.28 948.17,280.43 948.73,280.07 949.27,279.28 949.80,278.64 950.31,277.90 950.80,277.55 951.64,276.79 952.41,276.00 953.14,275.27 953.86,274.79 954.57,274.79 955.30,274.85 955.93,274.93 956.54,275.08 957.15,275.60 957.77,275.79 958.40,276.50 959.08,277.55 959.80,278.03 960.21,278.61 960.64,279.58 961.08,279.95 961.54,280.67 962.00,281.53 962.47,282.52 962.94,282.92 963.42,284.09 963.90,284.60 964.38,285.45 964.86,286.10 965.33,286.59 965.80,287.48 966.40,287.89 966.90,288.78 967.36,289.39 967.81,289.77 968.32,290.43 968.92,290.57 969.67,291.00 970.61,291.46 971.80,291.67 972.36,292.02 972.96,292.05 973.60,292.23 974.27,292.18 974.97,292.19 975.70,292.52 976.46,292.40 977.24,292.52 978.05,292.50 978.87,292.68 979.72,292.70 980.58,292.67 981.46,292.66 982.35,292.78 983.25,292.93 984.16,292.78 985.08,292.83 986.00,292.96 986.93,292.98 987.86,293.05 988.78,293.02 989.70,293.09 990.44,292.92 991.20,293.14 991.98,292.92 992.79,292.95 993.62,292.96 994.46,293.15 995.32,293.09 996.19,293.21 997.06,293.24 997.95,293.23 998.84,293.15 999.73,293.08 1000.62,293.24 1001.51,293.17 1002.39,293.02 1003.26,293.11 1004.12,292.95 1004.97,292.93 1005.81,293.07 1006.62,293.07 1007.42,293.07 1008.19,293.01 1008.94,292.80 1009.65,292.91 1010.34,292.93 1011.00,292.79 1011.62,292.67 1012.20,292.54 1013.45,292.27 1014.59,292.16 1015.61,291.94 1016.53,291.33 1017.36,291.17 1018.11,290.80 1018.77,290.24 1019.37,290.03 1019.90,289.44 1020.38,289.18 1020.81,289.02 1021.20,288.94" fill="none" stroke="#ED7D31" stroke-width="1.8" stroke-linejoin="round"/>
<line x1="711.29" y1="389.30" x2="711.29" y2="599.50" stroke="#E0E0E0" stroke-width="1.3" />
<line x1="750.18" y1="389.30" x2="750.18" y2="599.50" stroke="#E0E0E0" stroke-width="1.3" />
<line x1="789.07" y1="389.30" x2="789.07" y2="599.50" stroke="#E0E0E0" stroke-width="1.3" />
<line x1="827.96" y1="389.30" x2="827.96" y2="599.50" stroke="#E0E0E0" stroke-width="1.3" />
<line x1="866.84" y1="389.30" x2="866.84" y2="599.50" stroke="#E0E0E0" stroke-width="1.3" />
<line x1="905.73" y1="389.30" x2="905.73" y2="599.50" stroke="#E0E0E0" stroke-width="1.3" />
<line x1="944.62" y1="389.30" x2="944.62" y2="599.50" stroke="#E0E0E0" stroke-width="1.3" />
<line x1="983.51" y1="389.30" x2="983.51" y2="599.50" stroke="#E0E0E0" stroke-width="1.3" />
<line x1="672.40" y1="441.85" x2="1022.40" y2="441.85" stroke="#E0E0E0" stroke-width="1.3" />
<line x1="672.40" y1="494.40" x2="1022.40" y2="494.40" stroke="#E0E0E0" stroke-width="1.3" />
<line x1="672.40" y1="546.95" x2="1022.40" y2="546.95" stroke="#E0E0E0" stroke-width="1.3" />
<line x1="1022.40" y1="389.30" x2="1022.40" y2="599.50" stroke="#222" stroke-width="1.3" />
<line x1="672.40" y1="389.30" x2="1022.40" y2="389.30" stroke="#606060" stroke-width="1.4" />
<line x1="672.40" y1="599.50" x2="1022.40" y2="599.50" stroke="#777" stroke-width="1.4" />
<line x1="672.40" y1="388.80" x2="672.40" y2="604.50" stroke="#000" stroke-width="1.3" />
<line x1="667.20" y1="389.30" x2="672.40" y2="389.30" stroke="#555" stroke-width="1.2" />
<line x1="667.20" y1="441.85" x2="672.40" y2="441.85" stroke="#555" stroke-width="1.2" />
<line x1="667.20" y1="494.40" x2="672.40" y2="494.40" stroke="#555" stroke-width="1.2" />
<line x1="667.20" y1="546.95" x2="672.40" y2="546.95" stroke="#555" stroke-width="1.2" />
<line x1="667.20" y1="599.50" x2="672.40" y2="599.50" stroke="#555" stroke-width="1.2" />
<line x1="672.40" y1="599.50" x2="672.40" y2="604.50" stroke="#555" stroke-width="1.1" />
<line x1="680.18" y1="599.50" x2="680.18" y2="602.90" stroke="#555" stroke-width="1.1" />
<line x1="687.96" y1="599.50" x2="687.96" y2="602.90" stroke="#555" stroke-width="1.1" />
<line x1="695.73" y1="599.50" x2="695.73" y2="602.90" stroke="#555" stroke-width="1.1" />
<line x1="703.51" y1="599.50" x2="703.51" y2="602.90" stroke="#555" stroke-width="1.1" />
<line x1="711.29" y1="599.50" x2="711.29" y2="604.50" stroke="#555" stroke-width="1.1" />
<line x1="719.07" y1="599.50" x2="719.07" y2="602.90" stroke="#555" stroke-width="1.1" />
<line x1="726.84" y1="599.50" x2="726.84" y2="602.90" stroke="#555" stroke-width="1.1" />
<line x1="734.62" y1="599.50" x2="734.62" y2="602.90" stroke="#555" stroke-width="1.1" />
<line x1="742.40" y1="599.50" x2="742.40" y2="602.90" stroke="#555" stroke-width="1.1" />
<line x1="750.18" y1="599.50" x2="750.18" y2="604.50" stroke="#555" stroke-width="1.1" />
<line x1="757.96" y1="599.50" x2="757.96" y2="602.90" stroke="#555" stroke-width="1.1" />
<line x1="765.73" y1="599.50" x2="765.73" y2="602.90" stroke="#555" stroke-width="1.1" />
<line x1="773.51" y1="599.50" x2="773.51" y2="602.90" stroke="#555" stroke-width="1.1" />
<line x1="781.29" y1="599.50" x2="781.29" y2="602.90" stroke="#555" stroke-width="1.1" />
<line x1="789.07" y1="599.50" x2="789.07" y2="604.50" stroke="#555" stroke-width="1.1" />
<line x1="796.84" y1="599.50" x2="796.84" y2="602.90" stroke="#555" stroke-width="1.1" />
<line x1="804.62" y1="599.50" x2="804.62" y2="602.90" stroke="#555" stroke-width="1.1" />
<line x1="812.40" y1="599.50" x2="812.40" y2="602.90" stroke="#555" stroke-width="1.1" />
<line x1="820.18" y1="599.50" x2="820.18" y2="602.90" stroke="#555" stroke-width="1.1" />
<line x1="827.96" y1="599.50" x2="827.96" y2="604.50" stroke="#555" stroke-width="1.1" />
<line x1="835.73" y1="599.50" x2="835.73" y2="602.90" stroke="#555" stroke-width="1.1" />
<line x1="843.51" y1="599.50" x2="843.51" y2="602.90" stroke="#555" stroke-width="1.1" />
<line x1="851.29" y1="599.50" x2="851.29" y2="602.90" stroke="#555" stroke-width="1.1" />
<line x1="859.07" y1="599.50" x2="859.07" y2="602.90" stroke="#555" stroke-width="1.1" />
<line x1="866.84" y1="599.50" x2="866.84" y2="604.50" stroke="#555" stroke-width="1.1" />
<line x1="874.62" y1="599.50" x2="874.62" y2="602.90" stroke="#555" stroke-width="1.1" />
<line x1="882.40" y1="599.50" x2="882.40" y2="602.90" stroke="#555" stroke-width="1.1" />
<line x1="890.18" y1="599.50" x2="890.18" y2="602.90" stroke="#555" stroke-width="1.1" />
<line x1="897.96" y1="599.50" x2="897.96" y2="602.90" stroke="#555" stroke-width="1.1" />
<line x1="905.73" y1="599.50" x2="905.73" y2="604.50" stroke="#555" stroke-width="1.1" />
<line x1="913.51" y1="599.50" x2="913.51" y2="602.90" stroke="#555" stroke-width="1.1" />
<line x1="921.29" y1="599.50" x2="921.29" y2="602.90" stroke="#555" stroke-width="1.1" />
<line x1="929.07" y1="599.50" x2="929.07" y2="602.90" stroke="#555" stroke-width="1.1" />
<line x1="936.84" y1="599.50" x2="936.84" y2="602.90" stroke="#555" stroke-width="1.1" />
<line x1="944.62" y1="599.50" x2="944.62" y2="604.50" stroke="#555" stroke-width="1.1" />
<line x1="952.40" y1="599.50" x2="952.40" y2="602.90" stroke="#555" stroke-width="1.1" />
<line x1="960.18" y1="599.50" x2="960.18" y2="602.90" stroke="#555" stroke-width="1.1" />
<line x1="967.96" y1="599.50" x2="967.96" y2="602.90" stroke="#555" stroke-width="1.1" />
<line x1="975.73" y1="599.50" x2="975.73" y2="602.90" stroke="#555" stroke-width="1.1" />
<line x1="983.51" y1="599.50" x2="983.51" y2="604.50" stroke="#555" stroke-width="1.1" />
<line x1="991.29" y1="599.50" x2="991.29" y2="602.90" stroke="#555" stroke-width="1.1" />
<line x1="999.07" y1="599.50" x2="999.07" y2="602.90" stroke="#555" stroke-width="1.1" />
<line x1="1006.84" y1="599.50" x2="1006.84" y2="602.90" stroke="#555" stroke-width="1.1" />
<line x1="1014.62" y1="599.50" x2="1014.62" y2="602.90" stroke="#555" stroke-width="1.1" />
<line x1="1022.40" y1="599.50" x2="1022.40" y2="604.50" stroke="#555" stroke-width="1.1" />
<text x="637.08" y="393.90" font-family="'Gill Sans', 'Gill Sans MT', Cabin, Carlito, 'Liberation Sans', sans-serif" font-size="12.90" font-weight="normal" fill="#000" textLength="20.63" lengthAdjust="spacingAndGlyphs" >0.0</text>
<text x="631.42" y="446.45" font-family="'Gill Sans', 'Gill Sans MT', Cabin, Carlito, 'Liberation Sans', sans-serif" font-size="12.90" font-weight="normal" fill="#000" textLength="26.26" lengthAdjust="spacingAndGlyphs" >-0.5</text>
<text x="631.30" y="499.00" font-family="'Gill Sans', 'Gill Sans MT', Cabin, Carlito, 'Liberation Sans', sans-serif" font-size="12.90" font-weight="normal" fill="#000" textLength="26.58" lengthAdjust="spacingAndGlyphs" >-1.0</text>
<text x="631.22" y="551.55" font-family="'Gill Sans', 'Gill Sans MT', Cabin, Carlito, 'Liberation Sans', sans-serif" font-size="12.90" font-weight="normal" fill="#000" textLength="26.57" lengthAdjust="spacingAndGlyphs" >-1.5</text>
<text x="631.40" y="604.10" font-family="'Gill Sans', 'Gill Sans MT', Cabin, Carlito, 'Liberation Sans', sans-serif" font-size="12.90" font-weight="normal" fill="#000" textLength="26.39" lengthAdjust="spacingAndGlyphs" >-2.0</text>
<text x="667.88" y="623.20" font-family="'Gill Sans', 'Gill Sans MT', Cabin, Carlito, 'Liberation Sans', sans-serif" font-size="12.90" font-weight="normal" fill="#000" textLength="9.00" lengthAdjust="spacingAndGlyphs" >0</text>
<text x="707.77" y="623.20" font-family="'Gill Sans', 'Gill Sans MT', Cabin, Carlito, 'Liberation Sans', sans-serif" font-size="12.90" font-weight="normal" fill="#000" textLength="6.98" lengthAdjust="spacingAndGlyphs" >5</text>
<text x="743.70" y="623.20" font-family="'Gill Sans', 'Gill Sans MT', Cabin, Carlito, 'Liberation Sans', sans-serif" font-size="12.90" font-weight="normal" fill="#000" textLength="13.21" lengthAdjust="spacingAndGlyphs" >10</text>
<text x="783.55" y="623.20" font-family="'Gill Sans', 'Gill Sans MT', Cabin, Carlito, 'Liberation Sans', sans-serif" font-size="12.90" font-weight="normal" fill="#000" textLength="11.18" lengthAdjust="spacingAndGlyphs" >15</text>
<text x="820.02" y="623.20" font-family="'Gill Sans', 'Gill Sans MT', Cabin, Carlito, 'Liberation Sans', sans-serif" font-size="12.90" font-weight="normal" fill="#000" textLength="15.76" lengthAdjust="spacingAndGlyphs" >20</text>
<text x="859.88" y="623.20" font-family="'Gill Sans', 'Gill Sans MT', Cabin, Carlito, 'Liberation Sans', sans-serif" font-size="12.90" font-weight="normal" fill="#000" textLength="13.74" lengthAdjust="spacingAndGlyphs" >25</text>
<text x="897.83" y="623.20" font-family="'Gill Sans', 'Gill Sans MT', Cabin, Carlito, 'Liberation Sans', sans-serif" font-size="12.90" font-weight="normal" fill="#000" textLength="15.98" lengthAdjust="spacingAndGlyphs" >30</text>
<text x="937.69" y="623.20" font-family="'Gill Sans', 'Gill Sans MT', Cabin, Carlito, 'Liberation Sans', sans-serif" font-size="12.90" font-weight="normal" fill="#000" textLength="13.96" lengthAdjust="spacingAndGlyphs" >35</text>
<text x="975.48" y="623.20" font-family="'Gill Sans', 'Gill Sans MT', Cabin, Carlito, 'Liberation Sans', sans-serif" font-size="12.90" font-weight="normal" fill="#000" textLength="16.46" lengthAdjust="spacingAndGlyphs" >40</text>
<text x="1015.34" y="623.20" font-family="'Gill Sans', 'Gill Sans MT', Cabin, Carlito, 'Liberation Sans', sans-serif" font-size="12.90" font-weight="normal" fill="#000" textLength="14.43" lengthAdjust="spacingAndGlyphs" >45</text>
<text x="788.45" y="644.10" font-family="'Gill Sans', 'Gill Sans MT', Cabin, Carlito, 'Liberation Sans', sans-serif" font-size="15.80" font-weight="normal" fill="#000" textLength="120.14" lengthAdjust="spacingAndGlyphs" >Temperature (°C)</text>
<text transform="translate(624.30,543.50) rotate(-90)" x="-1.22" y="0" font-family="'Gill Sans', 'Gill Sans MT', Cabin, Carlito, 'Liberation Sans', sans-serif" font-size="13.70" font-weight="normal" fill="#000" textLength="100.43" lengthAdjust="spacingAndGlyphs" >Heat flow (W/g)</text>
<path d="M731.90,389.10 C733.05,389.22 735.70,389.17 738.80,389.80 C741.90,390.43 746.10,391.72 750.50,392.90 C754.90,394.08 760.27,395.27 765.20,396.90 C770.13,398.53 775.98,400.78 780.10,402.70 C784.22,404.62 786.83,406.10 789.90,408.40 C792.97,410.70 795.92,413.63 798.50,416.50 C801.08,419.37 803.10,421.97 805.40,425.60 C807.70,429.23 810.00,433.88 812.30,438.30 C814.60,442.72 816.90,447.90 819.20,452.10 C821.50,456.30 823.62,460.07 826.10,463.50 C828.58,466.93 831.82,470.40 834.10,472.70 C836.38,475.00 837.98,476.33 839.80,477.30 C841.62,478.27 843.08,478.88 845.00,478.50 C846.92,478.12 849.10,476.73 851.30,475.00 C853.50,473.27 856.03,469.83 858.20,468.10 C860.37,466.37 862.40,465.37 864.30,464.60 C866.20,463.83 868.18,464.22 869.60,463.50 C871.02,462.78 871.65,462.17 872.80,460.30 C873.95,458.43 875.35,455.58 876.50,452.30 C877.65,449.02 878.63,444.85 879.70,440.60 C880.77,436.35 881.75,431.40 882.90,426.80 C884.05,422.20 885.27,416.90 886.60,413.00 C887.93,409.10 889.30,406.07 890.90,403.40 C892.50,400.73 894.25,398.87 896.20,397.00 C898.15,395.13 900.65,393.30 902.60,392.20 C904.55,391.10 905.00,390.83 907.90,390.40 C910.80,389.97 911.32,389.78 920.00,389.60 C928.68,389.43 943.00,389.40 960.00,389.35 C977.00,389.30 1011.67,389.31 1022.00,389.30" fill="none" stroke="#6AAA3F" stroke-width="1.5" stroke-linejoin="round" stroke-linecap="round"/>
<path d="M751.40,388.90 C752.75,389.38 755.87,390.47 759.50,391.80 C763.13,393.13 768.23,395.00 773.20,396.90 C778.17,398.80 784.88,401.67 789.30,403.20 C793.72,404.73 797.02,405.58 799.70,406.10 C802.38,406.62 802.53,406.40 805.40,406.30 C808.27,406.20 813.45,405.43 816.90,405.50 C820.35,405.57 823.42,406.53 826.10,406.70 C828.78,406.87 831.18,407.27 833.00,406.50 C834.82,405.73 835.28,403.70 837.00,402.10 C838.72,400.50 840.92,398.18 843.30,396.90 C845.68,395.62 847.68,394.97 851.30,394.40 C854.92,393.83 861.78,393.63 865.00,393.50 C868.22,393.37 868.07,393.72 870.60,393.60 C873.13,393.48 878.33,392.85 880.20,392.80 C882.07,392.75 880.92,392.15 881.80,393.30 C882.68,394.45 884.25,397.30 885.50,399.70 C886.75,402.10 887.88,404.42 889.30,407.70 C890.72,410.98 892.15,415.33 894.00,419.40 C895.85,423.47 898.27,427.67 900.40,432.10 C902.53,436.53 904.67,441.38 906.80,446.00 C908.93,450.62 910.83,454.42 913.20,459.80 C915.57,465.18 918.73,471.32 921.00,478.30 C923.27,485.28 924.85,493.12 926.80,501.70 C928.75,510.28 930.75,520.05 932.70,529.80 C934.65,539.55 936.95,553.97 938.50,560.20 C940.05,566.43 940.63,567.58 942.00,567.20 C943.37,566.82 944.95,564.92 946.70,557.90 C948.45,550.88 950.55,537.20 952.50,525.10 C954.45,513.00 956.43,499.73 958.40,485.30 C960.37,470.87 962.55,450.20 964.30,438.50 C966.05,426.80 966.95,421.73 968.90,415.10 C970.85,408.47 973.27,402.80 976.00,398.70 C978.73,394.60 981.80,392.05 985.30,390.50 C988.80,388.95 990.88,389.60 997.00,389.40 C1003.12,389.20 1017.83,389.32 1022.00,389.30" fill="none" stroke="#ED7D31" stroke-width="1.5" stroke-linejoin="round" stroke-linecap="round"/>
<line x1="696.40" y1="559.10" x2="717.00" y2="559.10" stroke="#6AAA3F" stroke-width="1.4" />
<text x="719.01" y="562.90" font-family="'Gill Sans', 'Gill Sans MT', Cabin, Carlito, 'Liberation Sans', sans-serif" font-size="11.30" font-weight="normal" fill="#000" textLength="48.88" lengthAdjust="spacingAndGlyphs" >5°C - NT</text>
<line x1="788.20" y1="559.10" x2="808.40" y2="559.10" stroke="#ED7D31" stroke-width="1.4" />
<text x="810.63" y="562.90" font-family="'Gill Sans', 'Gill Sans MT', Cabin, Carlito, 'Liberation Sans', sans-serif" font-size="11.30" font-weight="normal" fill="#000" textLength="38.48" lengthAdjust="spacingAndGlyphs" >5°C - T</text>
<line x1="675.60" y1="857.41" x2="1022.20" y2="857.41" stroke="#D9D9D9" stroke-width="1.3" />
<line x1="675.60" y1="825.93" x2="1022.20" y2="825.93" stroke="#D9D9D9" stroke-width="1.3" />
<line x1="675.60" y1="794.44" x2="1022.20" y2="794.44" stroke="#D9D9D9" stroke-width="1.3" />
<line x1="675.60" y1="762.96" x2="1022.20" y2="762.96" stroke="#D9D9D9" stroke-width="1.3" />
<line x1="675.60" y1="731.47" x2="1022.20" y2="731.47" stroke="#D9D9D9" stroke-width="1.3" />
<line x1="675.60" y1="699.99" x2="1022.20" y2="699.99" stroke="#D9D9D9" stroke-width="1.3" />
<rect x="830.6" y="756.7" width="176.6" height="57.3" fill="#fff"/>
<line x1="675.60" y1="888.90" x2="1022.20" y2="888.90" stroke="#BFBFBF" stroke-width="1.4" />
<line x1="675.60" y1="668.50" x2="675.60" y2="888.90" stroke="#BFBFBF" stroke-width="1.4" />
<line x1="674.90" y1="668.50" x2="1022.90" y2="668.50" stroke="#000" stroke-width="1.5" />
<line x1="1022.20" y1="668.50" x2="1022.20" y2="889.40" stroke="#000" stroke-width="1.5" />
<text x="656.50" y="893.00" font-family="Carlito, 'Liberation Sans', sans-serif" font-size="12.50" font-weight="normal" fill="#000" textLength="6.97" lengthAdjust="spacingAndGlyphs" >0</text>
<text x="635.60" y="861.51" font-family="Carlito, 'Liberation Sans', sans-serif" font-size="12.50" font-weight="normal" fill="#000" textLength="27.88" lengthAdjust="spacingAndGlyphs" >1000</text>
<text x="635.60" y="830.03" font-family="Carlito, 'Liberation Sans', sans-serif" font-size="12.50" font-weight="normal" fill="#000" textLength="27.88" lengthAdjust="spacingAndGlyphs" >2000</text>
<text x="635.60" y="798.54" font-family="Carlito, 'Liberation Sans', sans-serif" font-size="12.50" font-weight="normal" fill="#000" textLength="27.88" lengthAdjust="spacingAndGlyphs" >3000</text>
<text x="635.60" y="767.06" font-family="Carlito, 'Liberation Sans', sans-serif" font-size="12.50" font-weight="normal" fill="#000" textLength="27.88" lengthAdjust="spacingAndGlyphs" >4000</text>
<text x="635.60" y="735.57" font-family="Carlito, 'Liberation Sans', sans-serif" font-size="12.50" font-weight="normal" fill="#000" textLength="27.88" lengthAdjust="spacingAndGlyphs" >5000</text>
<text x="635.60" y="704.09" font-family="Carlito, 'Liberation Sans', sans-serif" font-size="12.50" font-weight="normal" fill="#000" textLength="27.88" lengthAdjust="spacingAndGlyphs" >6000</text>
<text x="635.60" y="672.60" font-family="Carlito, 'Liberation Sans', sans-serif" font-size="12.50" font-weight="normal" fill="#000" textLength="27.88" lengthAdjust="spacingAndGlyphs" >7000</text>
<text x="672.30" y="910.90" font-family="Carlito, 'Liberation Sans', sans-serif" font-size="12.00" font-weight="normal" fill="#000" textLength="6.63" lengthAdjust="spacingAndGlyphs" >0</text>
<text x="733.44" y="910.90" font-family="Carlito, 'Liberation Sans', sans-serif" font-size="12.00" font-weight="normal" fill="#000" textLength="23.19" lengthAdjust="spacingAndGlyphs" >0.02</text>
<text x="802.60" y="910.90" font-family="Carlito, 'Liberation Sans', sans-serif" font-size="12.00" font-weight="normal" fill="#000" textLength="23.19" lengthAdjust="spacingAndGlyphs" >0.04</text>
<text x="872.05" y="910.90" font-family="Carlito, 'Liberation Sans', sans-serif" font-size="12.00" font-weight="normal" fill="#000" textLength="23.19" lengthAdjust="spacingAndGlyphs" >0.06</text>
<text x="941.40" y="910.90" font-family="Carlito, 'Liberation Sans', sans-serif" font-size="12.00" font-weight="normal" fill="#000" textLength="23.19" lengthAdjust="spacingAndGlyphs" >0.08</text>
<text x="1014.06" y="910.90" font-family="Carlito, 'Liberation Sans', sans-serif" font-size="12.00" font-weight="normal" fill="#000" textLength="16.56" lengthAdjust="spacingAndGlyphs" >0.1</text>
<text x="815.11" y="935.20" font-family="Carlito, 'Liberation Sans', sans-serif" font-size="17.50" font-weight="bold" fill="#000" textLength="78.62" lengthAdjust="spacingAndGlyphs" >Time (ms)</text>
<text transform="translate(626.40,816.40) rotate(-90)" x="-1.36" y="0" font-family="Carlito, 'Liberation Sans', sans-serif" font-size="18.50" font-weight="bold" fill="#000" textLength="70.83" lengthAdjust="spacingAndGlyphs" >Intensity</text>
<path d="M728.90,753.80 C729.65,756.22 731.53,761.42 733.40,768.30 C735.27,775.18 737.50,785.78 740.10,795.10 C742.70,804.42 746.02,816.00 749.00,824.20 C751.98,832.40 754.63,838.53 758.00,844.30 C761.37,850.07 765.10,855.38 769.20,858.80 C773.30,862.22 778.88,863.80 782.60,864.80 C786.32,865.80 787.78,865.17 791.50,864.80 C795.22,864.43 800.43,863.23 804.90,862.60 C809.37,861.97 813.83,861.27 818.30,861.00 C822.77,860.73 824.73,860.62 831.70,861.00 C838.67,861.38 849.88,862.62 860.10,863.30 C870.32,863.98 881.87,864.52 893.00,865.10 C904.13,865.68 915.60,866.35 926.90,866.80 C938.20,867.25 944.98,867.53 960.80,867.80 C976.62,868.07 1011.63,868.30 1021.80,868.40" fill="none" stroke="#ED7D31" stroke-width="1.9" stroke-linejoin="round" stroke-linecap="round"/>
<path d="M728.90,688.30 C730.02,691.58 733.37,701.00 735.60,708.00 C737.83,715.00 739.87,722.12 742.30,730.30 C744.73,738.48 747.58,748.53 750.20,757.10 C752.82,765.67 755.22,773.88 758.00,781.70 C760.78,789.52 763.55,796.55 766.90,804.00 C770.25,811.45 774.00,819.68 778.10,826.40 C782.20,833.12 787.03,839.47 791.50,844.30 C795.97,849.13 800.43,852.43 804.90,855.40 C809.37,858.37 813.08,860.30 818.30,862.10 C823.52,863.90 829.23,865.08 836.20,866.20 C843.17,867.32 850.63,867.97 860.10,868.80 C869.57,869.63 881.87,870.52 893.00,871.20 C904.13,871.88 915.60,872.50 926.90,872.90 C938.20,873.30 944.98,873.37 960.80,873.60 C976.62,873.83 1011.63,874.18 1021.80,874.30" fill="none" stroke="#00A84F" stroke-width="1.9" stroke-linejoin="round" stroke-linecap="round"/>
<line x1="852.20" y1="776.50" x2="879.60" y2="776.50" stroke="#ED7D31" stroke-width="1.9" />
<text x="881.57" y="780.50" font-family="Carlito, 'Liberation Sans', sans-serif" font-size="13.00" font-weight="normal" fill="#000" textLength="79.22" lengthAdjust="spacingAndGlyphs" >5°C Tempered</text>
<line x1="852.20" y1="807.20" x2="879.60" y2="807.20" stroke="#00A84F" stroke-width="1.9" />
<text x="881.59" y="811.30" font-family="Carlito, 'Liberation Sans', sans-serif" font-size="13.00" font-weight="normal" fill="#000" textLength="103.89" lengthAdjust="spacingAndGlyphs" >5°C Non-tempered</text>
<line x1="439.70" y1="284.60" x2="592.01" y2="210.15" stroke="#70AD47" stroke-width="2.5" />
<polygon points="600.90,205.80 589.81,220.68 582.34,205.41" fill="#70AD47"/>
<line x1="439.80" y1="290.80" x2="589.48" y2="466.27" stroke="#70AD47" stroke-width="2.5" />
<polygon points="595.90,473.80 578.73,466.76 591.66,455.73" fill="#70AD47"/>
<line x1="439.80" y1="290.80" x2="606.34" y2="709.10" stroke="#70AD47" stroke-width="2.5" />
<polygon points="610.00,718.30 596.00,706.11 611.79,699.83" fill="#70AD47"/>
<line x1="433.40" y1="689.40" x2="616.32" y2="285.12" stroke="#ED7D31" stroke-width="2.5" />
<polygon points="620.40,276.10 621.34,294.64 605.85,287.63" fill="#ED7D31"/>
<line x1="433.40" y1="689.40" x2="588.96" y2="526.46" stroke="#ED7D31" stroke-width="2.5" />
<polygon points="595.80,519.30 590.55,537.10 578.26,525.36" fill="#ED7D31"/>
<line x1="433.40" y1="689.40" x2="583.45" y2="741.83" stroke="#ED7D31" stroke-width="2.5" />
<polygon points="592.80,745.10 574.42,747.68 580.03,731.63" fill="#ED7D31"/>
<line x1="1023.40" y1="182.20" x2="1177.45" y2="449.22" stroke="#000" stroke-width="2.5" />
<polygon points="1182.40,457.80 1166.79,447.76 1181.52,439.26" fill="#000"/>
<line x1="1043.50" y1="491.20" x2="1167.19" y2="466.44" stroke="#000" stroke-width="2.5" />
<polygon points="1176.90,464.50 1162.39,476.07 1159.05,459.40" fill="#000"/>
<line x1="1023.10" y1="779.30" x2="1177.78" y2="485.96" stroke="#000" stroke-width="2.5" />
<polygon points="1182.40,477.20 1182.22,495.76 1167.19,487.83" fill="#000"/>
</svg></body></html>
